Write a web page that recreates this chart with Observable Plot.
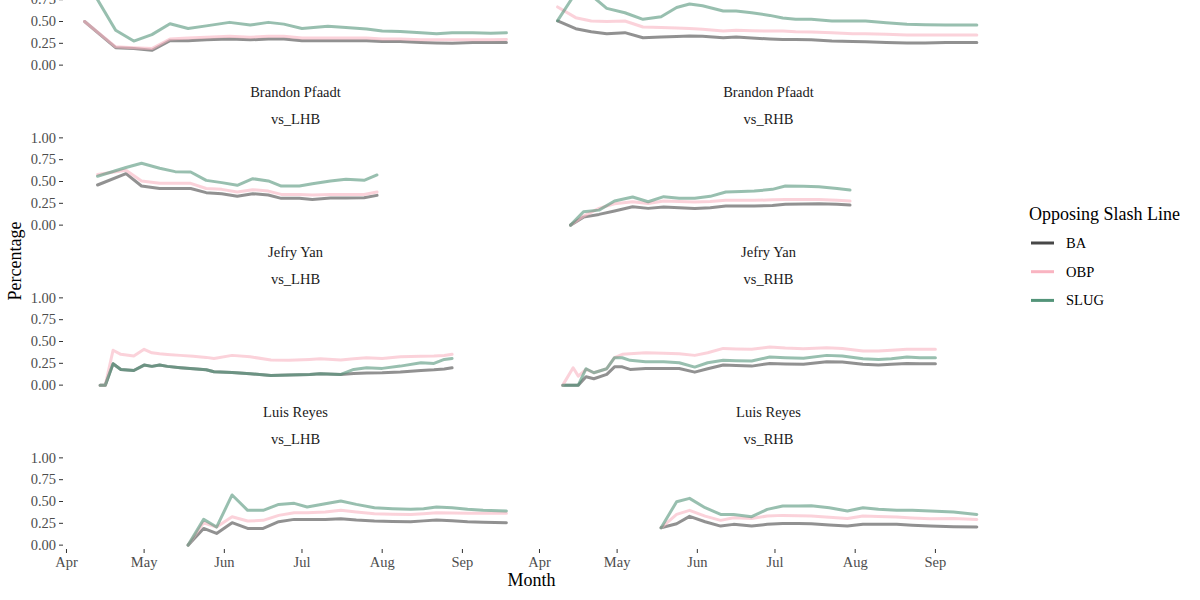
<!DOCTYPE html>
<html><head><meta charset="utf-8">
<script src="https://cdn.jsdelivr.net/npm/d3@7"></script>
<script src="https://cdn.jsdelivr.net/npm/@observablehq/plot@0.6"></script>
<style>
html,body{margin:0;padding:0;background:#fff;}
#wrap{position:relative;width:1200px;height:600px;overflow:hidden;background:#fff;}
#chart{position:absolute;left:0;top:-117px;}
#overlay{position:absolute;left:0;top:0;}
</style></head><body>
<div id="wrap"><div id="chart"></div><svg id="overlay" width="1200" height="600"></svg></div>
<script>
// ---- categories / labels ----
const seriesNames = ["BA", "OBP", "SLUG"];
const seriesColors = ["#474747", "#f9b4c1", "#539479"];
const splits = ["vs_LHB", "vs_RHB"];
const rows = ["r0", "r1", "r2", "r3"];
const playerNames = [null, "Brandon Pfaadt", "Jefry Yan", "Luis Reyes"]; // top row's strip is cropped out of the picture
const monthTicks = ["2024-04-01", "2024-05-01", "2024-06-01", "2024-07-01", "2024-08-01", "2024-09-01"];
const yTicks = [0, 0.25, 0.5, 0.75, 1];
const legendTitle = "Opposing Slash Line";
const xTitle = "Month";
const yTitle = "Percentage";

// ---- data: days after Apr 1, values per series ----
// top row (cropped), vs_LHB
const r0L_days = [7,19,26,33,40,47,54,63,71,78,84,91,101,108,116,122,129,137,143,149,157,164,170];
const r0L_BA   = [0.50,0.20,0.19,0.17,0.28,0.28,0.29,0.30,0.29,0.30,0.30,0.28,0.28,0.28,0.28,0.27,0.27,0.26,0.255,0.25,0.26,0.26,0.26];
const r0L_OBP  = [0.50,0.21,0.20,0.19,0.30,0.31,0.32,0.33,0.32,0.33,0.33,0.31,0.31,0.31,0.31,0.30,0.30,0.29,0.29,0.29,0.29,0.29,0.295];
const r0L_SLUG = [1.00,0.40,0.276,0.35,0.475,0.42,0.45,0.49,0.46,0.49,0.47,0.42,0.445,0.43,0.415,0.39,0.385,0.37,0.36,0.37,0.37,0.365,0.37];
// top row (cropped), vs_RHB
const r0R_days = [7,14,20,26,33,40,47,53,58,63,71,76,82,89,94,99,105,113,121,126,134,142,149,157,163,169];
const r0R_BA   = [0.506,0.418,0.383,0.36,0.372,0.314,0.322,0.328,0.333,0.33,0.314,0.322,0.31,0.30,0.295,0.295,0.29,0.276,0.27,0.268,0.26,0.253,0.255,0.258,0.26,0.26];
const r0R_OBP  = [0.667,0.544,0.506,0.50,0.506,0.437,0.43,0.425,0.42,0.41,0.39,0.40,0.395,0.39,0.39,0.383,0.38,0.37,0.36,0.36,0.353,0.345,0.345,0.345,0.345,0.345];
const r0R_SLUG = [0.51,0.83,0.80,0.65,0.60,0.525,0.555,0.66,0.70,0.68,0.62,0.62,0.60,0.57,0.54,0.525,0.525,0.506,0.506,0.506,0.486,0.468,0.462,0.46,0.46,0.46];
// Brandon Pfaadt vs_LHB
const r1L_days = [12,23,29,36,42,48,54,60,66,72,78,83,90,95,102,108,115,120];
const r1L_BA   = [0.46,0.59,0.448,0.42,0.42,0.42,0.372,0.36,0.33,0.36,0.345,0.307,0.307,0.295,0.31,0.31,0.314,0.341];
const r1L_OBP  = [0.58,0.628,0.506,0.479,0.479,0.479,0.42,0.41,0.379,0.406,0.39,0.352,0.352,0.345,0.352,0.352,0.352,0.379];
const r1L_SLUG = [0.56,0.66,0.709,0.652,0.613,0.609,0.513,0.487,0.456,0.532,0.506,0.448,0.448,0.475,0.506,0.525,0.513,0.575];
// Brandon Pfaadt vs_RHB
const r1R_days = [12,17,23,29,36,42,48,54,60,66,72,78,83,90,95,102,108,115,120];
const r1R_BA   = [0,0.092,0.123,0.161,0.21,0.192,0.207,0.2,0.192,0.2,0.218,0.218,0.218,0.225,0.238,0.242,0.245,0.24,0.23];
const r1R_OBP  = [0,0.103,0.192,0.245,0.268,0.249,0.276,0.27,0.264,0.27,0.284,0.284,0.284,0.29,0.295,0.295,0.295,0.285,0.276];
const r1R_SLUG = [0,0.153,0.172,0.276,0.322,0.268,0.326,0.307,0.307,0.33,0.379,0.385,0.39,0.41,0.448,0.445,0.44,0.42,0.402];
// Jefry Yan vs_LHB
const r2L_days = [13,15,18,21,26,30,33,36,39,44,49,54,57,64,71,79,86,94,98,106,111,116,122,129,137,142,146,149];
const r2L_BA   = [0,0,0.245,0.18,0.168,0.23,0.215,0.23,0.215,0.20,0.187,0.176,0.153,0.146,0.13,0.111,0.115,0.123,0.13,0.123,0.134,0.138,0.141,0.15,0.168,0.175,0.185,0.199];
const r2L_OBP  = [0,0,0.40,0.353,0.333,0.41,0.371,0.36,0.352,0.341,0.33,0.318,0.306,0.341,0.325,0.287,0.284,0.295,0.302,0.287,0.302,0.314,0.305,0.325,0.33,0.333,0.34,0.353];
const r2L_SLUG = [0,0,0.245,0.18,0.168,0.23,0.215,0.23,0.215,0.20,0.187,0.176,0.153,0.146,0.13,0.111,0.115,0.123,0.13,0.123,0.18,0.199,0.192,0.218,0.256,0.249,0.295,0.306];
// Jefry Yan vs_RHB
const r2R_days = [9,13,15,18,21,26,29,32,35,41,48,54,60,65,71,76,82,89,95,102,111,117,125,131,136,142,147,153];
const r2R_BA   = [0,0,0,0.096,0.073,0.123,0.21,0.21,0.18,0.191,0.191,0.191,0.149,0.188,0.23,0.225,0.218,0.249,0.243,0.238,0.268,0.264,0.238,0.23,0.24,0.249,0.245,0.245];
const r2R_OBP  = [0,0.199,0.103,0.18,0.142,0.188,0.314,0.353,0.36,0.371,0.365,0.36,0.341,0.371,0.421,0.415,0.41,0.437,0.425,0.417,0.429,0.42,0.39,0.39,0.40,0.41,0.41,0.41];
const r2R_SLUG = [0,0,0,0.188,0.142,0.188,0.314,0.314,0.284,0.268,0.268,0.257,0.207,0.257,0.284,0.28,0.276,0.322,0.314,0.307,0.341,0.333,0.302,0.295,0.302,0.322,0.314,0.314];
// Luis Reyes vs_LHB
const r3L_days = [47,53,58,64,70,76,82,88,93,100,106,112,119,126,133,138,143,149,155,161,170];
const r3L_BA   = [0,0.191,0.134,0.257,0.191,0.191,0.268,0.295,0.295,0.295,0.303,0.287,0.276,0.272,0.268,0.278,0.287,0.28,0.268,0.262,0.257];
const r3L_OBP  = [0,0.257,0.207,0.326,0.276,0.284,0.341,0.371,0.371,0.379,0.399,0.379,0.36,0.355,0.352,0.36,0.371,0.368,0.364,0.364,0.364];
const r3L_SLUG = [0,0.295,0.207,0.575,0.399,0.399,0.467,0.479,0.437,0.475,0.506,0.467,0.429,0.418,0.41,0.418,0.437,0.429,0.41,0.399,0.391];
// Luis Reyes vs_RHB
const r3R_days = [47,53,58,64,70,75,82,88,94,100,105,112,119,125,131,138,144,151,160,169];
const r3R_BA   = [0.199,0.245,0.33,0.268,0.218,0.238,0.218,0.238,0.249,0.247,0.245,0.232,0.218,0.238,0.238,0.238,0.228,0.218,0.21,0.207];
const r3R_OBP  = [0.199,0.352,0.399,0.333,0.284,0.314,0.306,0.333,0.341,0.337,0.333,0.32,0.306,0.333,0.327,0.322,0.312,0.303,0.306,0.295];
const r3R_SLUG = [0.199,0.498,0.536,0.429,0.352,0.352,0.326,0.41,0.448,0.448,0.452,0.429,0.391,0.429,0.41,0.399,0.399,0.391,0.379,0.352];

// ---- build table ----
const panels = [
  {row:"r0", split:"vs_LHB", days:r0L_days, BA:r0L_BA, OBP:r0L_OBP, SLUG:r0L_SLUG},
  {row:"r0", split:"vs_RHB", days:r0R_days, BA:r0R_BA, OBP:r0R_OBP, SLUG:r0R_SLUG},
  {row:"r1", split:"vs_LHB", days:r1L_days, BA:r1L_BA, OBP:r1L_OBP, SLUG:r1L_SLUG},
  {row:"r1", split:"vs_RHB", days:r1R_days, BA:r1R_BA, OBP:r1R_OBP, SLUG:r1R_SLUG},
  {row:"r2", split:"vs_LHB", days:r2L_days, BA:r2L_BA, OBP:r2L_OBP, SLUG:r2L_SLUG},
  {row:"r2", split:"vs_RHB", days:r2R_days, BA:r2R_BA, OBP:r2R_OBP, SLUG:r2R_SLUG},
  {row:"r3", split:"vs_LHB", days:r3L_days, BA:r3L_BA, OBP:r3L_OBP, SLUG:r3L_SLUG},
  {row:"r3", split:"vs_RHB", days:r3R_days, BA:r3R_BA, OBP:r3R_OBP, SLUG:r3R_SLUG}
];
const base = Date.UTC(2024, 3, 1);
const toDate = d => new Date(base + d * 864e5);
const table = [];
for (const p of panels) for (const s of seriesNames) p.days.forEach((d, i) =>
  table.push({row: p.row, split: p.split, series: s, date: toDate(d), value: p[s][i]}));
// strip labels only for the rows whose strips are inside the picture
const strips = rows.flatMap((r, i) => playerNames[i] == null ? [] :
  splits.map(s => ({row: r, split: s, name: playerNames[i], label: s})));

const allDays = panels.flatMap(p => p.days);
const dMin = d3.min(allDays), dMax = d3.max(allDays);
const pad = (dMax - dMin) * 0.05;
const xDomain = [toDate(dMin - pad), toDate(dMax + pad)];
const monthDates = monthTicks.map(s => new Date(s + "T00:00:00Z"));

const chart = Plot.plot({
  width: 1200, height: 726,
  marginTop: 90, marginBottom: 60, marginLeft: 63, marginRight: 199.5,
  style: {fontFamily: "'Liberation Serif', 'Times New Roman', serif", fontSize: "14.5px", background: "white", overflow: "visible"},
  facet: {marginTop: 0, marginRight: 0, marginBottom: 0, marginLeft: 0},
  fx: {domain: splits, axis: null, paddingInner: 0.02, paddingOuter: 0},
  fy: {domain: rows, axis: null, paddingInner: 0.402, paddingOuter: 0},
  x: {type: "utc", domain: xDomain},
  y: {domain: [-0.05, 1.05]},
  color: {domain: seriesNames, range: seriesColors},
  marks: [
    Plot.line(table, {x: "date", y: "value", z: "series", stroke: "series", fx: "split", fy: "row",
      strokeWidth: 3, strokeOpacity: 0.6}),
    Plot.text(strips, {fx: "split", fy: "row", text: "name", frameAnchor: "top", dy: -41, lineAnchor: "middle", fill: "#1a1a1a"}),
    Plot.text(strips, {fx: "split", fy: "row", text: "label", frameAnchor: "top", dy: -14, lineAnchor: "middle", fill: "#1a1a1a"}),
    Plot.axisY({ticks: yTicks, tickFormat: d3.format(".2f"), tickSize: 4, tickPadding: 3.5, stroke: "#333", fill: "#4d4d4d", label: null}),
    Plot.axisX({ticks: monthDates, tickFormat: d3.utcFormat("%b"), tickSize: 4, tickPadding: 3, stroke: "#333", fill: "#4d4d4d", label: null})
  ]
});
document.getElementById("chart").appendChild(chart);

// ---- titles and legend ----
const ov = d3.select("#overlay").style("font-family", "'Liberation Serif', 'Times New Roman', serif");
ov.append("text").attr("transform", "translate(15,261) rotate(-90)")
  .attr("text-anchor", "middle").attr("dominant-baseline", "central")
  .attr("font-size", 18).attr("fill", "#000").text(yTitle);
ov.append("text").attr("x", 531.5).attr("y", 580)
  .attr("text-anchor", "middle").attr("dominant-baseline", "central")
  .attr("font-size", 18).attr("fill", "#000").text(xTitle);
ov.append("text").attr("x", 1029).attr("y", 214).attr("dominant-baseline", "central")
  .attr("font-size", 18).attr("fill", "#000").text(legendTitle);
seriesNames.forEach((s, i) => {
  const y = 243 + i * 28.7;
  ov.append("line").attr("x1", 1031).attr("x2", 1054).attr("y1", y).attr("y2", y)
    .attr("stroke", seriesColors[i]).attr("stroke-width", 3);
  ov.append("text").attr("x", 1066).attr("y", y).attr("dominant-baseline", "central")
    .attr("font-size", 14.5).attr("fill", "#000").text(s);
});
</script>
</body></html>
